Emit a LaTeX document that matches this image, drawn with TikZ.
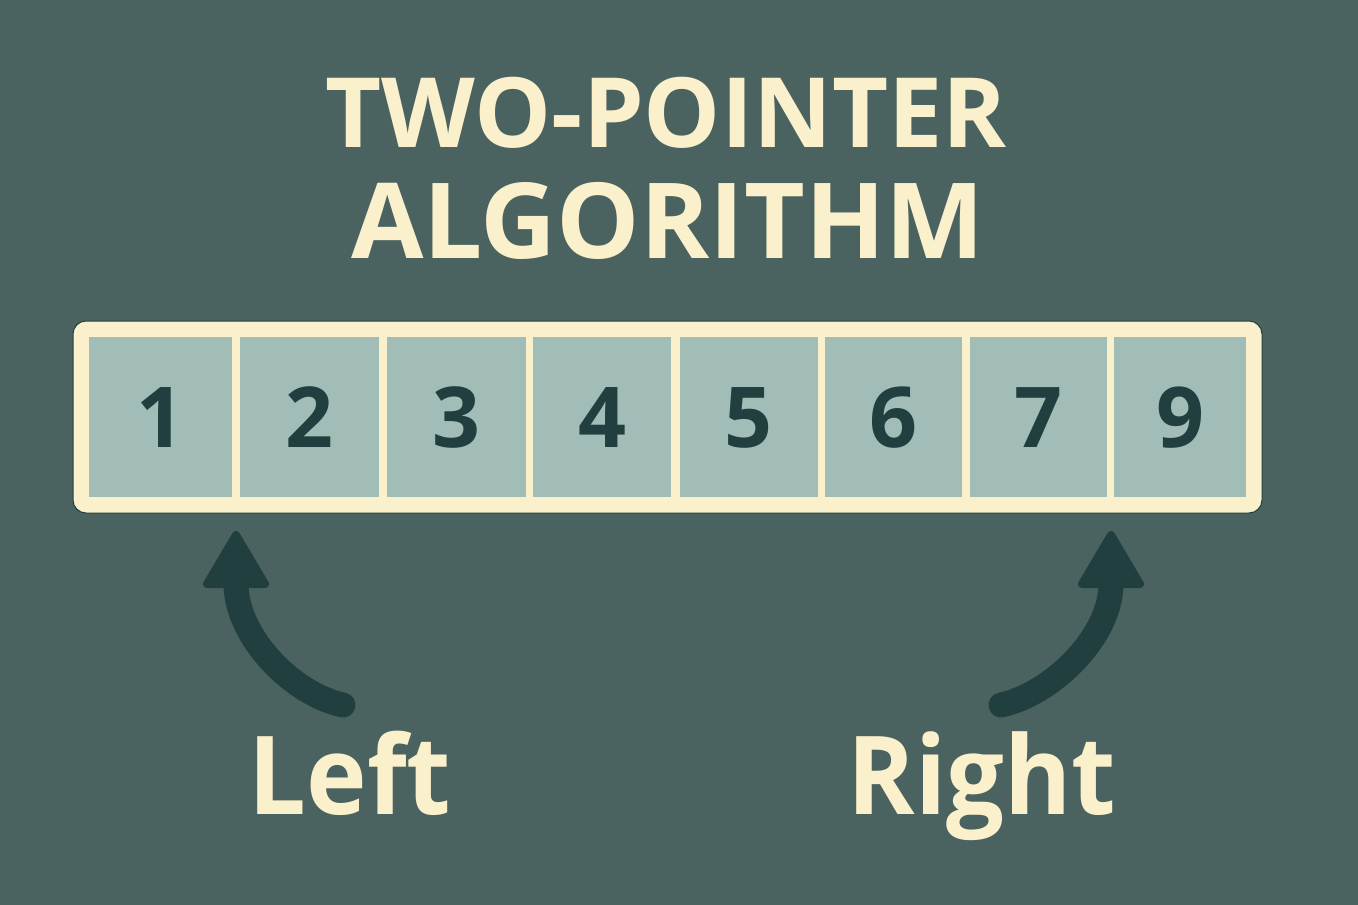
\documentclass[tikz,border=0pt]{standalone}
\usepackage{fontspec}
\setmainfont{Open Sans}
\definecolor{bg}{HTML}{4A6360}
\definecolor{cream}{HTML}{FBF0CC}
\definecolor{cellc}{HTML}{A2BDB8}
\definecolor{ink}{HTML}{213F3E}
\tikzset{
  frame/.style={rectangle, rounded corners=13pt, fill=cream, draw=ink, line width=1pt, minimum width=1189pt, minimum height=192pt, inner sep=0pt},
  cell/.style={rectangle, fill=cellc, minimum height=160pt, inner sep=0pt},
  num/.style={text=ink, font=\fontsize{84}{90}\selectfont\bfseries, anchor=base, inner sep=0pt},
  title/.style={text=cream, font=\fontsize{97}{100}\selectfont\bfseries, anchor=base, inner sep=0pt},
  bigtitle/.style={text=cream, font=\fontsize{105}{110}\selectfont\bfseries, anchor=base, inner sep=0pt},
  label/.style={text=cream, font=\fontsize{109}{115}\selectfont\bfseries, anchor=base, inner sep=0pt},
  shaft/.style={draw=ink, line width=25pt, line cap=round},
  head/.style={fill=ink, draw=ink, line width=8pt, line join=round},
}
\begin{document}
\begin{tikzpicture}[x=1pt,y=-1pt]
\fill[bg] (0,0) rectangle (1358,905);
\useasboundingbox (0,0) rectangle (1358,905);
% title
\node[title] (t1) at (666,147) {TWO-POINTER};
\node[bigtitle] (t2) at (668,258) {ALGORITHM};
% array frame
\node[frame] (frame) at (667.5,417) {};
% cells
\node[cell, minimum width=143pt] (c1) at (160.5,417) {};
\node[cell, minimum width=139pt] (c2) at (309.5,417) {};
\node[cell, minimum width=139pt] (c3) at (456,417) {};
\node[cell, minimum width=138pt] (c4) at (602,417) {};
\node[cell, minimum width=138pt] (c5) at (748.5,417) {};
\node[cell, minimum width=137pt] (c6) at (893.5,417) {};
\node[cell, minimum width=137pt] (c7) at (1038.5,417) {};
\node[cell, minimum width=132pt] (c8) at (1180,417) {};
% numbers
\node[num] (n1) at (160.5,447) {1};
\node[num] (n2) at (309.5,447) {2};
\node[num] (n3) at (456,447) {3};
\node[num] (n4) at (602,447) {4};
\node[num] (n5) at (748.5,447) {5};
\node[num] (n6) at (893.5,447) {6};
\node[num] (n7) at (1038.5,447) {7};
\node[num] (n8) at (1180,447) {9};
% labels
\node[label] (left) at (350,814) {\scalebox{0.94}[1]{Left}};
\node[label] (right) at (982,814) {\scalebox{0.94}[1]{Right}};
% pointer coordinates
\coordinate (lstart) at (343,705);
\coordinate (lend) at (236,586);
\coordinate (ltip) at (236,535);
\coordinate (lb1) at (207,584);
\coordinate (lb2) at (265,584);
\coordinate (rstart) at (1001,705);
\coordinate (rend) at (1111,586);
\coordinate (rtip) at (1111,535);
\coordinate (rb1) at (1082,584);
\coordinate (rb2) at (1140,584);
% left arrow
\draw[shaft] (lstart) .. controls (295,695) and (238,640) .. (lend);
\filldraw[head] (ltip) -- (lb1) -- (lb2) -- cycle;
% right arrow
\draw[shaft] (rstart) .. controls (1049,695) and (1109,640) .. (rend);
\filldraw[head] (rtip) -- (rb1) -- (rb2) -- cycle;
\end{tikzpicture}
\end{document}
